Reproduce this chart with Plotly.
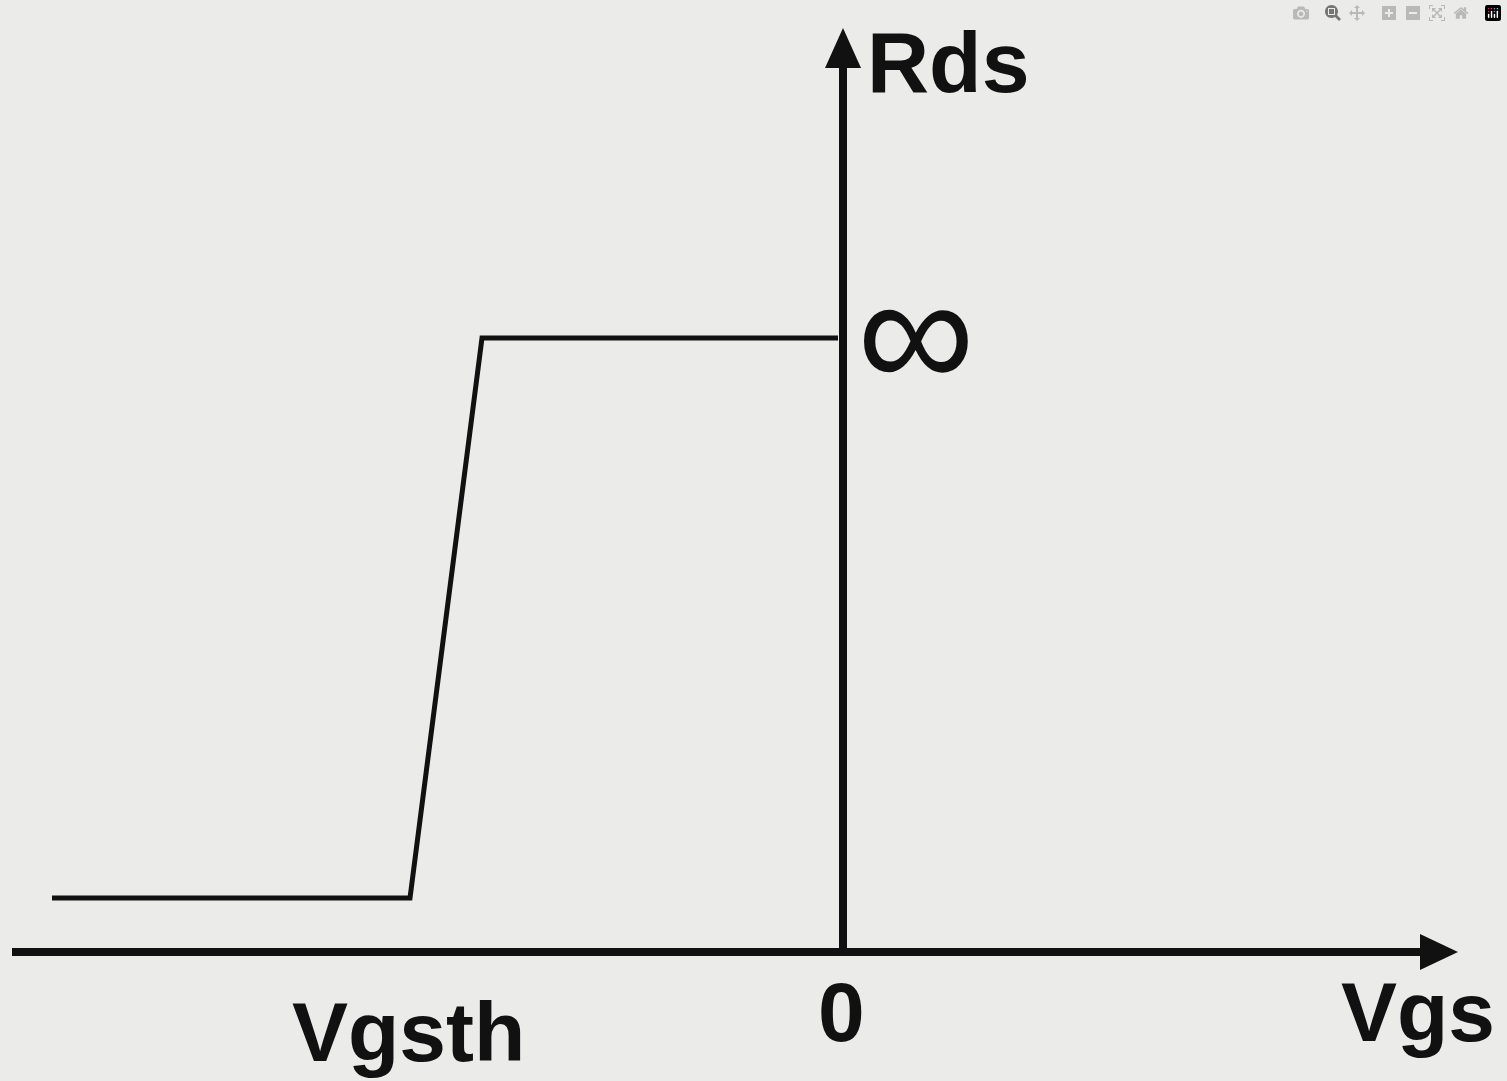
import plotly.graph_objects as go

W, H = 1507, 1081
# Rds vs Vgs schematic (positions in picture units)
curve_x = [52, 410, 482, 838]
curve_y = [898, 898, 338, 338]
axis_origin = (843, 952)

labels = [("Rds", 948, 62, 86), ("∞", 916, 332, 165), ("0", 841, 1012, 84),
          ("Vgs", 1418, 1012, 84), ("Vgsth", 408, 1032, 84)]

fig = go.Figure()
fig.add_trace(go.Scatter(x=curve_x, y=curve_y, mode="lines",
                         line=dict(color="#111", width=5), hoverinfo="skip"))

ox, oy = axis_origin
fig.add_shape(type="line", x0=12, y0=oy, x1=1430, y1=oy, line=dict(color="#111", width=8))
fig.add_shape(type="line", x0=ox, y0=oy, x1=ox, y1=55, line=dict(color="#111", width=8))
fig.add_shape(type="path", path="M 1420 934 L 1458 952 L 1420 970 Z",
              fillcolor="#111", line=dict(width=0))
fig.add_shape(type="path", path=f"M 825 68 L {ox} 28 L 861 68 Z",
              fillcolor="#111", line=dict(width=0))

for t, x, y, s in labels:
    fig.add_annotation(x=x, y=y, text=f"<b>{t}</b>" if t != "∞" else t, showarrow=False,
                       font=dict(family="Liberation Sans, Arial", size=s, color="#111"),
                       xanchor="center", yanchor="middle")

fig.update_xaxes(range=[0, W], visible=False)
fig.update_yaxes(range=[H, 0], visible=False)
fig.update_layout(width=W, height=H, margin=dict(l=0, r=0, t=0, b=0),
                  paper_bgcolor="#ebebe9", plot_bgcolor="#ebebe9", showlegend=False)
fig.write_html("out.html", post_script="document.body.style.margin='0';document.body.style.background='#ebebe9';")
